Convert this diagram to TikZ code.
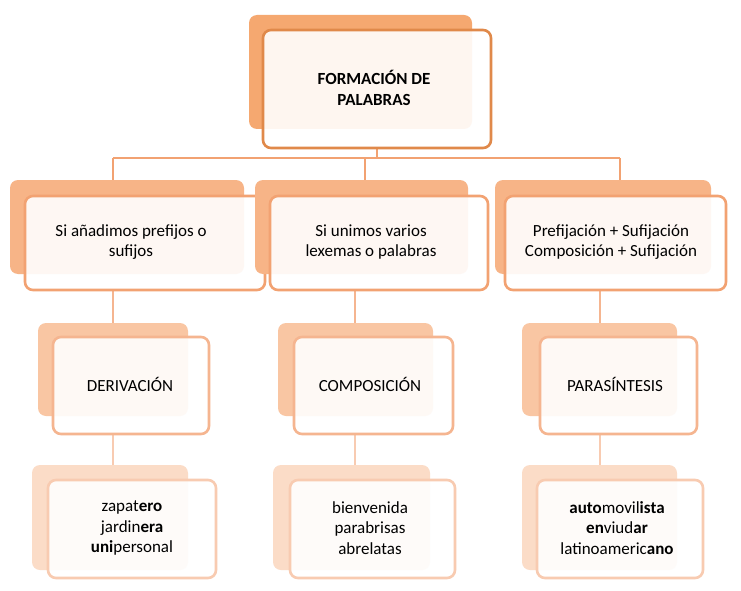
\documentclass[tikz,border=0pt]{standalone}
\usepackage{fontspec}
\setmainfont{Carlito}
\begin{document}
\begin{tikzpicture}[x=1pt,y=-1pt,
  every node/.style={font=\fontsize{17}{20.5}\selectfont, align=center, inner sep=0pt},
  bk/.style={rounded corners=8pt},
  fr/.style={rounded corners=8pt, line width=2.6pt, fill=white, fill opacity=0.9, text opacity=1},
  ln/.style={line width=2.6pt}]
\definecolor{c1}{HTML}{F5A870}\definecolor{b1}{HTML}{E0894A}
\definecolor{c2}{HTML}{F7B487}\definecolor{b2}{HTML}{F2A272}
\definecolor{c3}{HTML}{F9C6A3}\definecolor{b3}{HTML}{F5B590}
\definecolor{c4}{HTML}{FBDCC7}\definecolor{b4}{HTML}{F8CBB1}
\useasboundingbox (0,0) rectangle (741,591);
\fill[white] (0,0) rectangle (741,591);
% connectors
\coordinate (h) at (377,158);
\draw[ln,b2] (377,148) -- (h);
\draw[ln,b2] (113,158) -- (620,158);
\draw[ln,b2] (113,158) -- (113,196);
\draw[ln,b2] (365,158) -- (365,196);
\draw[ln,b2] (620,158) -- (620,196);
\draw[ln,b3] (113,290) -- (113,337);
\draw[ln,b3] (355,290) -- (355,337);
\draw[ln,b3] (600,290) -- (600,337);
\draw[ln,b4] (113,434) -- (113,480);
\draw[ln,b4] (355,434) -- (355,480);
\draw[ln,b4] (600,434) -- (600,480);
% level 1
\fill[c1,bk] (249,15) rectangle (472,129);
\draw[fr,draw=b1] (263,30) rectangle (491,148);
\node[font=\fontsize{17}{20.5}\selectfont\bfseries] (top) at (374,88) {FORMACIÓN DE\\PALABRAS};
% level 2
\foreach \a/\b/\c/\d in {10/244/25/265, 255/468/270/488, 495/711/505/726}{
  \fill[c2,bk] (\a,180) rectangle (\b,274);
  \draw[fr,draw=b2] (\c,196) rectangle (\d,290);}
\node (l2a) at (131,242) {Si añadimos prefijos o\\sufijos};
\node (l2b) at (371,242) {Si unimos varios\\lexemas o palabras};
\node (l2c) at (611,242) {Prefijación + Sufijación\\Composición + Sufijación};
% level 3
\foreach \a/\b/\c/\d in {38/188/53/209, 278/433/294/453, 522/677/540/697}{
  \fill[c3,bk] (\a,323) rectangle (\b,416);
  \draw[fr,draw=b3] (\c,337) rectangle (\d,434);}
\node (l3a) at (130,384) {DERIVACIÓN};
\node (l3b) at (370,384) {COMPOSICIÓN};
\node (l3c) at (615,384) {PARASÍNTESIS};
% level 4
\foreach \a/\b/\c/\d in {32/188/48/216, 273/430/290/455, 522/677/537/703}{
  \fill[c4,bk] (\a,465) rectangle (\b,570);
  \draw[fr,draw=b4] (\c,480) rectangle (\d,578);}
\node (l4a) at (132,528) {zapat\textbf{ero}\\jardin\textbf{era}\\\textbf{uni}personal};
\node (l4b) at (370,528) {bienvenida\\parabrisas\\abrelatas};
\node (l4c) at (617,528) {\textbf{auto}movil\textbf{ista}\\\textbf{en}viud\textbf{ar}\\latinoameric\textbf{ano}};
\end{tikzpicture}
\end{document}
